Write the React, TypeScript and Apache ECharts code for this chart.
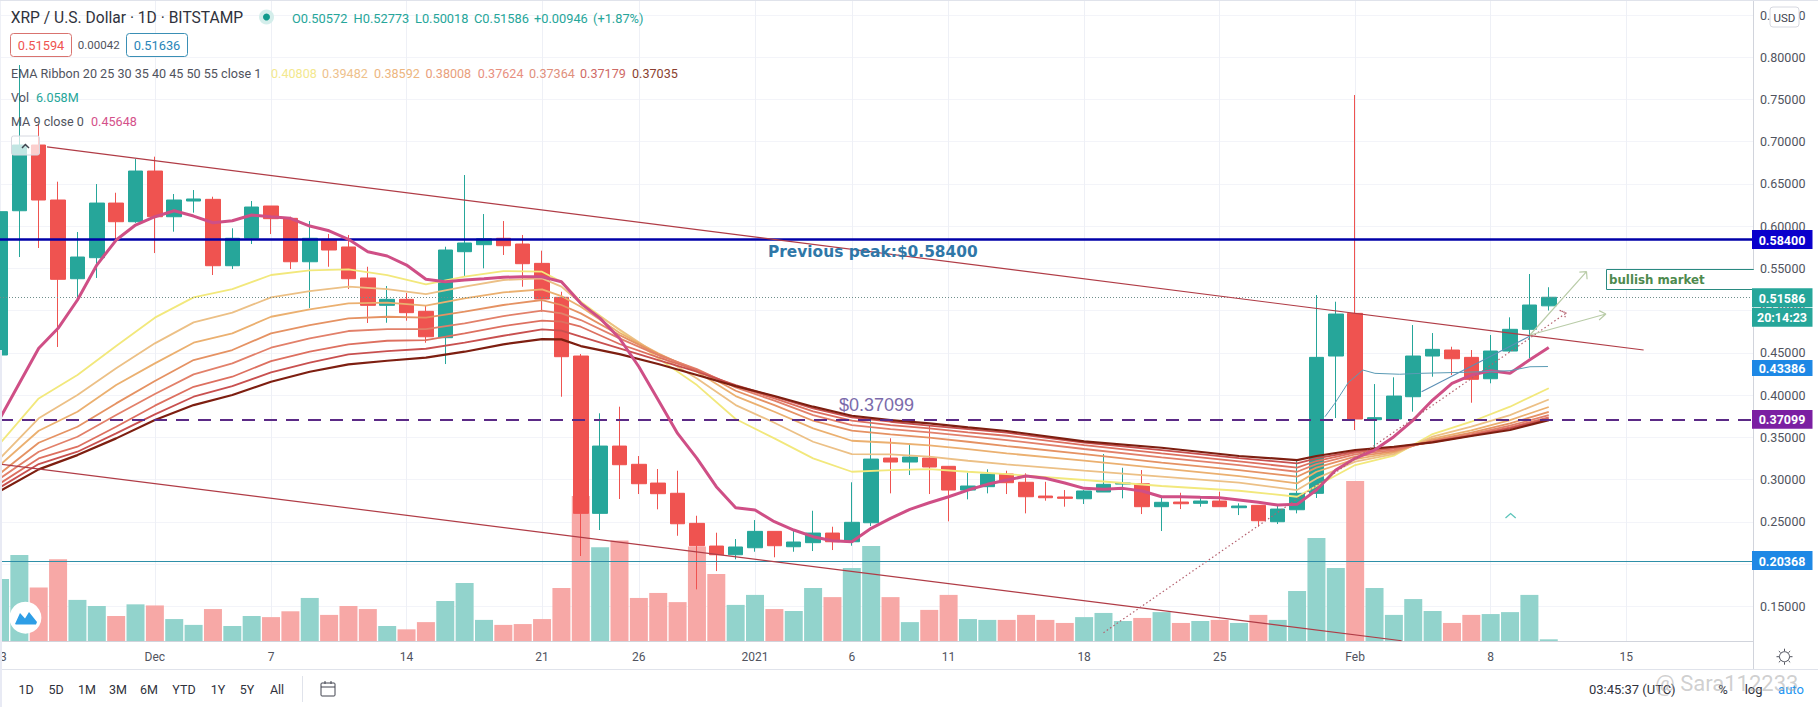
import React, { useEffect, useRef } from "react";
import * as echarts from "echarts";

// day number: 0 = 1 Dec 2020
const tickDays = [-8, 0, 6, 13, 20, 25, 31, 36, 41, 48, 55, 62, 69, 76];
const tickLabels = ["23", "Dec", "7", "14", "21", "26", "2021", "6", "11", "18", "25", "Feb", "8", "15"];
const priceTicks = [0.15, 0.2, 0.25, 0.3, 0.35, 0.4, 0.45, 0.5, 0.55, 0.6, 0.65, 0.7, 0.75, 0.8, 0.85];

// [day, open, close, low, high]
const candleRows = [
  [-8, 0.4475, 0.6172, 0.44, 0.63], [-7, 0.6183, 0.6961, 0.5635, 0.7908], [-6, 0.6961, 0.631, 0.5742, 0.721],
  [-5, 0.631, 0.5371, 0.457, 0.6527], [-4, 0.5378, 0.5635, 0.5126, 0.5931], [-3, 0.5627, 0.6274, 0.5387, 0.6499],
  [-2, 0.6274, 0.6053, 0.5836, 0.6396], [-1, 0.6053, 0.6653, 0.604, 0.6795], [0, 0.6653, 0.6112, 0.5682, 0.6823],
  [1, 0.6112, 0.631, 0.5935, 0.6381], [2, 0.6298, 0.6322, 0.616, 0.6428], [3, 0.6318, 0.5532, 0.5422, 0.6349],
  [4, 0.5532, 0.5857, 0.5493, 0.5975], [5, 0.5857, 0.6227, 0.5789, 0.6298], [6, 0.6239, 0.6089, 0.5907, 0.6239],
  [7, 0.6093, 0.5579, 0.5493, 0.6112], [8, 0.5579, 0.5857, 0.5031, 0.6061], [9, 0.5845, 0.5718, 0.552, 0.5907],
  [10, 0.5754, 0.5378, 0.5256, 0.5896], [11, 0.5387, 0.5063, 0.4854, 0.552], [12, 0.5063, 0.5134, 0.4857, 0.5292],
  [13, 0.5134, 0.4976, 0.4881, 0.5209], [14, 0.4992, 0.4691, 0.462, 0.5067], [15, 0.468, 0.5718, 0.4368, 0.5757],
  [16, 0.5698, 0.5801, 0.5402, 0.6606], [17, 0.5781, 0.5852, 0.5501, 0.6144], [18, 0.5857, 0.5769, 0.5659, 0.6061],
  [19, 0.5789, 0.5556, 0.5283, 0.5896], [20, 0.556, 0.5138, 0.4988, 0.571], [21, 0.5158, 0.4455, 0.3981, 0.5224],
  [22, 0.4463, 0.26, 0.2095, 0.4487], [23, 0.26, 0.3397, 0.2403, 0.3785], [24, 0.3397, 0.3176, 0.277, 0.3863],
  [25, 0.3181, 0.2951, 0.2829, 0.3279], [26, 0.2959, 0.2833, 0.2648, 0.3125], [27, 0.2838, 0.2477, 0.2335, 0.3105],
  [28, 0.2482, 0.2217, 0.17, 0.2572], [29, 0.2213, 0.211, 0.1917, 0.2371], [30, 0.211, 0.2202, 0.2056, 0.2296],
  [31, 0.2193, 0.2387, 0.2146, 0.2521], [32, 0.2387, 0.2217, 0.208, 0.2387], [33, 0.2205, 0.2261, 0.2146, 0.2391],
  [34, 0.2253, 0.2367, 0.2154, 0.2631], [35, 0.2367, 0.2264, 0.2166, 0.2442], [36, 0.2264, 0.2494, 0.2217, 0.2968],
  [37, 0.2489, 0.3243, 0.245, 0.3705], [38, 0.3255, 0.3208, 0.2837, 0.3489], [39, 0.3208, 0.3267, 0.3054, 0.3409],
  [40, 0.3255, 0.3149, 0.2829, 0.3646], [41, 0.3157, 0.2876, 0.2506, 0.3157], [42, 0.2876, 0.2924, 0.2766, 0.3081],
  [43, 0.2916, 0.3066, 0.2837, 0.3122], [44, 0.3066, 0.2963, 0.2829, 0.3105], [45, 0.2968, 0.2797, 0.26, 0.3074],
  [46, 0.2805, 0.2785, 0.275, 0.2974], [47, 0.2794, 0.2778, 0.2679, 0.2876], [48, 0.2773, 0.2865, 0.2711, 0.2876],
  [49, 0.2853, 0.2944, 0.2853, 0.3303], [50, 0.2947, 0.2959, 0.2778, 0.314], [51, 0.2951, 0.2679, 0.2592, 0.3113],
  [52, 0.2679, 0.2731, 0.2391, 0.279], [53, 0.2734, 0.2714, 0.2651, 0.2844], [54, 0.2719, 0.2746, 0.2679, 0.2797],
  [55, 0.2746, 0.2679, 0.2679, 0.2856], [56, 0.2667, 0.2687, 0.258, 0.2719], [57, 0.2695, 0.2513, 0.2442, 0.2695],
  [58, 0.2501, 0.2651, 0.2474, 0.2687], [59, 0.2643, 0.2837, 0.26, 0.3232], [60, 0.2837, 0.4447, 0.2782, 0.5185],
  [61, 0.4463, 0.496, 0.3729, 0.5106], [62, 0.4968, 0.3717, 0.3587, 0.7553], [63, 0.3709, 0.3733, 0.3374, 0.4131],
  [64, 0.3717, 0.3989, 0.3717, 0.4211], [65, 0.3981, 0.4463, 0.3804, 0.483], [66, 0.4463, 0.4542, 0.4218, 0.4735],
  [67, 0.4534, 0.4431, 0.4238, 0.4573], [68, 0.4447, 0.4187, 0.391, 0.4534], [69, 0.4194, 0.4522, 0.414, 0.4712],
  [70, 0.4522, 0.4779, 0.451, 0.4921], [71, 0.4779, 0.5067, 0.4439, 0.5434], [72, 0.50572, 0.51586, 0.50018, 0.52773],
];

// volume in millions, day -8 to 72
const volumes = [
  223, 310, 193, 294, 148, 126, 90, 132, 128, 79, 58, 115, 54, 90, 86, 107, 155, 94, 126, 115, 54, 42, 68, 144, 209, 76, 58,
  61, 79, 191, 522, 338, 362, 155, 173, 140, 340, 241, 130, 166, 115, 108, 191, 158, 263, 342, 158, 68, 112, 166, 79, 76, 76,
  94, 76, 65, 86, 101, 72, 83, 104, 65, 72, 76, 65, 94, 76, 180, 371, 263, 576, 191, 94, 151, 108, 65, 94, 97, 104, 166, 6.058,
];

const ribbonDays = [-8, -6, -4, -2, 0, 2, 4, 6, 8, 10, 12, 14, 16, 18, 20, 21, 22, 24, 26, 28, 30, 32, 34, 36, 38, 40, 42, 44, 48, 52, 56, 59, 60, 62, 64, 66, 68, 70, 72];
const ema20 = [0.3429, 0.3961, 0.4238, 0.4581, 0.4917, 0.5157, 0.5256, 0.5422, 0.5477, 0.5489, 0.5422, 0.5311, 0.5402, 0.5469, 0.5461, 0.5343, 0.5106, 0.4771, 0.4435, 0.4119, 0.3717, 0.3488, 0.3251, 0.3093, 0.3113, 0.3125, 0.3093, 0.3065, 0.2995, 0.2924, 0.2868, 0.2797, 0.2924, 0.3172, 0.3283, 0.3539, 0.3685, 0.3863, 0.40808];
const ema25 = [0.3251, 0.3725, 0.4001, 0.4317, 0.4613, 0.4861, 0.4976, 0.5157, 0.5232, 0.5284, 0.5256, 0.5197, 0.5284, 0.5363, 0.5382, 0.5284, 0.5086, 0.4778, 0.4474, 0.4198, 0.3882, 0.3673, 0.3448, 0.3302, 0.3298, 0.3271, 0.3223, 0.318, 0.3105, 0.3034, 0.2963, 0.2876, 0.3014, 0.3212, 0.3302, 0.3508, 0.3626, 0.3764, 0.39482];
const ema30 = [0.3172, 0.3578, 0.3803, 0.4119, 0.4376, 0.4621, 0.4731, 0.4928, 0.5015, 0.5086, 0.5094, 0.5059, 0.5145, 0.5217, 0.5252, 0.5173, 0.5047, 0.4739, 0.4494, 0.4277, 0.3989, 0.3803, 0.3606, 0.346, 0.3436, 0.3405, 0.3361, 0.331, 0.3224, 0.3133, 0.3042, 0.2955, 0.3093, 0.3243, 0.3318, 0.3484, 0.3583, 0.3705, 0.38592];
const ema35 = [0.3073, 0.3436, 0.3626, 0.3902, 0.4167, 0.4415, 0.4534, 0.4731, 0.483, 0.4909, 0.4928, 0.4917, 0.4988, 0.5067, 0.5126, 0.5067, 0.4968, 0.4711, 0.4486, 0.4297, 0.4052, 0.3882, 0.3697, 0.3579, 0.3535, 0.3496, 0.3448, 0.3397, 0.3302, 0.32, 0.3113, 0.3034, 0.3141, 0.3271, 0.3334, 0.3468, 0.3555, 0.3666, 0.38008];
const ema40 = [0.3014, 0.333, 0.3507, 0.3764, 0.4013, 0.4246, 0.4376, 0.4561, 0.4672, 0.4759, 0.4782, 0.4782, 0.4849, 0.4936, 0.5, 0.4968, 0.4889, 0.4672, 0.4474, 0.4309, 0.4092, 0.3934, 0.3764, 0.3646, 0.3598, 0.3559, 0.3515, 0.3468, 0.3362, 0.3263, 0.3172, 0.3093, 0.3184, 0.3298, 0.335, 0.3456, 0.3539, 0.3638, 0.37624];
const ema45 = [0.2955, 0.3251, 0.3389, 0.3626, 0.3875, 0.4099, 0.4218, 0.4403, 0.4514, 0.4601, 0.4644, 0.4652, 0.4731, 0.4818, 0.4881, 0.4869, 0.481, 0.4605, 0.4447, 0.4297, 0.4107, 0.3961, 0.3807, 0.3697, 0.3646, 0.3606, 0.3559, 0.3519, 0.3409, 0.331, 0.3216, 0.3141, 0.322, 0.3318, 0.3366, 0.3448, 0.3527, 0.3618, 0.37364];
const ema50 = [0.2908, 0.3184, 0.333, 0.3547, 0.3772, 0.3981, 0.4107, 0.4269, 0.4384, 0.4482, 0.4522, 0.4549, 0.4621, 0.4703, 0.4778, 0.4763, 0.4692, 0.4553, 0.4415, 0.4277, 0.4119, 0.3981, 0.3843, 0.3736, 0.3685, 0.3638, 0.3598, 0.3555, 0.3437, 0.335, 0.3255, 0.3192, 0.3251, 0.3334, 0.3381, 0.3445, 0.352, 0.3606, 0.37179];
const ema55 = [0.2864, 0.3121, 0.329, 0.3488, 0.3705, 0.3882, 0.4001, 0.4159, 0.4277, 0.4364, 0.4407, 0.4443, 0.4514, 0.4601, 0.4664, 0.466, 0.4581, 0.4486, 0.4368, 0.4238, 0.4107, 0.3989, 0.3863, 0.3756, 0.3705, 0.3665, 0.3618, 0.3575, 0.3453, 0.3377, 0.3279, 0.3231, 0.3279, 0.335, 0.3389, 0.3441, 0.3516, 0.3587, 0.37035];
const ribbonValues = [ema20, ema25, ema30, ema35, ema40, ema45, ema50, ema55];
const ribbonNames = ["EMA 20", "EMA 25", "EMA 30", "EMA 35", "EMA 40", "EMA 45", "EMA 50", "EMA 55"];
const ribbonColors = ["#f2e87c", "#ecc086", "#ebb070", "#e59263", "#e2806a", "#dd7060", "#c8504f", "#7d1e10"];
const ribbonLegend = ["0.40808", "0.39482", "0.38592", "0.38008", "0.37624", "0.37364", "0.37179", "0.37035"];
const ribbonLegendColors = ["#f3e88e", "#eec18c", "#edb680", "#e9a07c", "#e8907f", "#e0907c", "#cf6a66", "#8a3f30"];

// MA 9, day -8 to 72
const ma9 = [
  0.3725, 0.414, 0.4554, 0.4791, 0.5126, 0.554, 0.5836, 0.6014, 0.6112, 0.6183, 0.612, 0.6041, 0.6065, 0.6132, 0.6112, 0.6093,
  0.6002, 0.5946, 0.5845, 0.5698, 0.5647, 0.554, 0.5371, 0.5343, 0.5363, 0.5378, 0.5395, 0.5402, 0.5402, 0.5343, 0.5087, 0.4909,
  0.4673, 0.4336, 0.3942, 0.3547, 0.3252, 0.2916, 0.2667, 0.264, 0.2501, 0.2403, 0.2324, 0.2276, 0.2265, 0.2423, 0.2541, 0.2648,
  0.2726, 0.2797, 0.2876, 0.2944, 0.2995, 0.3042, 0.3015, 0.2959, 0.2896, 0.2885, 0.2896, 0.2865, 0.2797, 0.2797, 0.279, 0.2785,
  0.2758, 0.2731, 0.2699, 0.2707, 0.2876, 0.3113, 0.3252, 0.335, 0.3508, 0.3705, 0.3942, 0.414, 0.4238, 0.4289, 0.4258, 0.4416, 0.45648,
];

const upperTrend = [[-5.57, 0.6938], [76.9, 0.4534]];
const lowerTrend = [[-8, 0.3184], [64.4, 0.1092]];
const dottedTrend = [[49, 0.1187], [72.9, 0.4972], [72.55, 0.5005], [72.9, 0.4972], [72.8, 0.49]];
const arrowUp = [[71.03, 0.4712], [73.95, 0.5461], [73.58, 0.5457], [73.95, 0.5461], [73.98, 0.5371]];
const arrowSide = [[71.03, 0.4712], [74.95, 0.496], [74.6, 0.5], [74.95, 0.496], [74.6, 0.4889]];
const blueArrow = [[65.43, 0.404], [71.03, 0.47]];
const blueCurve = [[60.44, 0.3744], [60.95, 0.3903], [61.64, 0.4147], [62.4, 0.4297], [63.02, 0.4258], [64.3, 0.4247], [65.35, 0.4258], [67.57, 0.427], [70, 0.4289], [71.03, 0.4336], [71.96, 0.43386]];

const UP = "#26a69a";
const DOWN = "#ef5350";
const FONT = "Roboto";

function txt(text: string, x: number, y: number, size: number, fill: string, extra: any = {}) {
  return {
    type: "text",
    x,
    y,
    z: 100,
    silent: true,
    style: {
      text,
      fill,
      font: `${extra.weight || "normal"} ${size}px ${extra.family || FONT}`,
      textAlign: extra.align || "left",
      textVerticalAlign: "middle",
      opacity: extra.opacity == null ? 1 : extra.opacity,
    },
  };
}
function box(x: number, y: number, w: number, h: number, fill: string, stroke?: string, r = 0) {
  return {
    type: "rect",
    z: 99,
    silent: true,
    shape: { x, y, width: w, height: h, r },
    style: { fill, stroke: stroke || "none", lineWidth: stroke ? 1 : 0 },
  };
}
function stroke(points: number[][], color: string, lineWidth = 1) {
  return {
    type: "polyline",
    z: 100,
    silent: true,
    shape: { points },
    style: { stroke: color, lineWidth, fill: "none" },
  };
}
function tag(text: string, y0: number, y1: number, color: string) {
  return [box(1752, y0, 60.5, y1 - y0, color), txt(text, 1782, (y0 + y1) / 2 + 0.5, 12.5, "#ffffff", { align: "center", weight: "bold" })];
}

function hLine(name: string, value: number, color: string, width: number, type: any) {
  return {
    name,
    type: "line",
    data: [],
    z: 6,
    silent: true,
    markLine: {
      silent: true,
      symbol: "none",
      animation: false,
      precision: 5,
      label: { show: false },
      lineStyle: { color, width, type },
      data: [{ yAxis: value }],
    },
  };
}
function seg(name: string, data: number[][], color: string, width: number, type: any = "solid") {
  return {
    name,
    type: "line",
    data,
    z: 7,
    symbol: "none",
    silent: true,
    lineStyle: { color, width, type },
  };
}

export default function App() {
  const ref = useRef<HTMLDivElement>(null);
  useEffect(() => {
    document.body.style.margin = "0";
    const chart = echarts.init(ref.current!, undefined, { renderer: "svg" });
    const legendX = [271, 322, 374, 425.4, 477.7, 529, 580, 632];
    const toolbar: [string, number][] = [["1D", 26], ["5D", 56], ["1M", 87], ["3M", 118], ["6M", 149], ["YTD", 184], ["1Y", 218], ["5Y", 247], ["All", 277]];
    const ohlc: [string, number][] = [["O0.50572", 292], ["H0.52773", 353.6], ["L0.50018", 415], ["C0.51586", 474], ["+0.00946", 534], ["(+1.87%)", 593]];
    const gearRays: any[] = [];
    for (let a = 0; a < 8; a++) {
      const c = Math.cos((a * Math.PI) / 4);
      const s = Math.sin((a * Math.PI) / 4);
      gearRays.push(stroke([[1784.5 + 5.5 * c, 656.7 + 5.5 * s], [1784.5 + 8 * c, 656.7 + 8 * s]], "#50535e", 1));
    }
    const elements: any[] = [
      // frame
      box(0, 0, 1818, 1, "#e0e3eb"),
      box(0, 669, 1818, 1, "#e0e3eb"),
      box(1753, 641, 1, 28, "#d1d4dc"),
      box(0, 350, 2, 357, "#e8eaf4"),
      box(302, 676, 1, 26, "#e0e3eb"),
      // header
      txt("XRP / U.S. Dollar · 1D · BITSTAMP", 10.7, 17.5, 15.6, "#2f323c"),
      { type: "circle", z: 99, silent: true, shape: { cx: 266.5, cy: 17, r: 7.5 }, style: { fill: "#d4eeeb" } },
      { type: "circle", z: 100, silent: true, shape: { cx: 266.5, cy: 17, r: 3.5 }, style: { fill: "#119a8c" } },
      ...ohlc.map(([t, x]) => txt(t, x, 18, 12.8, UP)),
      box(10.5, 33.5, 61, 23, "#ffffff", "#d9736f", 3),
      txt("0.51594", 41, 45.5, 12.8, DOWN, { align: "center" }),
      txt("0.00042", 98.7, 45, 11.5, "#50535e", { align: "center" }),
      box(126.5, 33.5, 61, 23, "#ffffff", "#3a8fb5", 3),
      txt("0.51636", 157, 45.5, 12.8, "#2a85b8", { align: "center" }),
      txt("EMA Ribbon 20 25 30 35 40 45 50 55 close 1", 11, 73.5, 12.6, "#50535e"),
      ...ribbonLegend.map((t, i) => txt(t, legendX[i], 73.5, 12.6, ribbonLegendColors[i])),
      txt("Vol", 11, 97.7, 12.6, "#50535e"),
      txt("6.058M", 36, 97.7, 12.6, UP),
      txt("MA 9 close 0", 11, 121.7, 12.6, "#50535e"),
      txt("0.45648", 91, 121.7, 12.6, "#d4518a"),
      // collapse button
      box(11.5, 136, 28, 19, "rgba(255,255,255,0.72)", "#d6d8e0", 2),
      stroke([[22, 148], [25.4, 144.5], [29, 148]], "#40434e", 1.5),
      // annotations
      txt("Previous peak:$0.58400", 768, 252, 15.4, "#2f77a8", { weight: "bold", family: "DejaVu Sans" }),
      txt("$0.37099", 839, 405, 18, "#7b6bab", { family: "Liberation Sans" }),
      box(1606.5, 269.5, 147, 20, "#ffffff", "#2a8a80"),
      box(1748, 270, 6, 19, "#ffffff"),
      txt("bullish market", 1609, 279.5, 11.8, "#4e8a4e", { weight: "bold", family: "DejaVu Sans" }),
      stroke([[1505.5, 518], [1510.6, 513.5], [1515.7, 518]], "#5cc4ba", 1.3),
      // price tags
      ...tag("0.58400", 230, 249, "#0a00cc"),
      ...tag("0.51586", 288.3, 307, UP),
      ...tag("20:14:23", 307.7, 326.7, UP),
      ...tag("0.43386", 360, 376, "#1e88e5"),
      ...tag("0.37099", 410, 428.7, "#7b1fa2"),
      ...tag("0.20368", 551, 570, "#1e88e5"),
      // usd button
      box(1770, 7, 29, 20, "#ffffff", "#d6d8e0", 3),
      txt("USD", 1784.5, 17.5, 11.5, "#40434e", { align: "center" }),
      // logo
      { type: "circle", z: 99, silent: true, shape: { cx: 25.4, cy: 617.7, r: 16 }, style: { fill: "#ffffff" } },
      { type: "polygon", z: 100, silent: true, shape: { points: [[15, 624], [20, 613], [25, 618.5], [29, 612], [37, 622], [36, 624.5], [16, 624.5]] }, style: { fill: "#2e9ee6" } },
      // toolbar
      ...toolbar.map(([t, x]) => txt(t, x, 689, 12.5, "#2f323c", { align: "center" })),
      box(321, 683, 14, 13, "#ffffff", "#40434e", 1),
      stroke([[321, 687], [335, 687]], "#40434e", 1),
      stroke([[325, 681], [325, 684]], "#40434e", 1),
      stroke([[331, 681], [331, 684]], "#40434e", 1),
      txt("03:45:37 (UTC)", 1589, 689, 13, "#2f323c"),
      txt("%", 1723, 689, 13, "#2f323c", { align: "center" }),
      txt("log", 1753.6, 689, 13, "#2f323c", { align: "center" }),
      txt("auto", 1791, 689, 13, "#2196f3", { align: "center" }),
      txt("@ Sara112233", 1655, 683, 22, "#a8a8a8", { opacity: 0.55 }),
      // gear
      { type: "circle", z: 100, silent: true, shape: { cx: 1784.5, cy: 656.7, r: 5 }, style: { fill: "none", stroke: "#50535e", lineWidth: 1 } },
      ...gearRays,
    ];

    const candleByDay = candleRows.map((r) => r[2] >= r[1]);

    chart.setOption({
      animation: false,
      backgroundColor: "#ffffff",
      grid: { left: 0, top: 0, width: 1753, height: 641, containLabel: false, outerBoundsMode: "none" },
      xAxis: {
        type: "value",
        min: -8,
        max: 82.55,
        axisLine: { onZero: false, lineStyle: { color: "#d1d4dc" } },
        axisTick: { show: false, customValues: tickDays },
        splitLine: { show: true, lineStyle: { color: "#eef0f6", width: 1 } },
        axisLabel: {
          customValues: tickDays,
          margin: 10,
          color: "#50535e",
          fontFamily: FONT,
          fontSize: 12,
          formatter: (v: number) => tickLabels[tickDays.indexOf(v)] ?? "",
          hideOverlap: false,
          showMinLabel: true,
        },
      },
      yAxis: [
        {
          type: "value",
          position: "right",
          min: 0.1089,
          max: 0.8678,
          axisLine: { show: true, onZero: false, lineStyle: { color: "#d1d4dc" } },
          axisTick: { show: false, customValues: priceTicks },
          splitLine: { show: true, lineStyle: { color: "#f3f4f9", width: 1 } },
          axisLabel: {
            customValues: priceTicks,
            margin: 7,
            color: "#50535e",
            fontFamily: FONT,
            fontSize: 12.5,
            formatter: (v: number) => v.toFixed(5),
          },
        },
        { type: "value", min: 0, max: 2308, show: false, splitLine: { show: false } },
      ],
      graphic: { elements },
      series: [
        {
          name: "Vol",
          type: "bar",
          yAxisIndex: 1,
          barWidth: 18,
          z: 1,
          silent: true,
          data: volumes.map((v, i) => ({
            value: [i - 8, v],
            itemStyle: { color: candleByDay[i] ? "#92d3cc" : "#f7a8a6" },
          })),
        },
        {
          name: "XRP",
          type: "candlestick",
          barWidth: 15,
          z: 3,
          silent: true,
          encode: { x: 0, y: [1, 2, 3, 4] },
          data: candleRows,
          itemStyle: { color: UP, color0: DOWN, borderColor: UP, borderColor0: DOWN, borderWidth: 1 },
        },
        ...ribbonValues.map((vals, i) => ({
          name: ribbonNames[i],
          type: "line",
          symbol: "none",
          silent: true,
          z: 4,
          data: vals.map((v, j) => [ribbonDays[j], v]),
          lineStyle: { color: ribbonColors[i], width: i === 7 ? 2.2 : 1.8 },
        })),
        {
          name: "MA 9",
          type: "line",
          symbol: "none",
          silent: true,
          z: 5,
          data: ma9.map((v, i) => [i - 8, v]),
          lineStyle: { color: "#cf4f86", width: 3 },
        },
        hLine("Previous peak", 0.584, "#0000a8", 2.6, "solid"),
        hLine("Support", 0.37099, "#5b2a86", 2.2, [13, 9]),
        hLine("Bottom", 0.20368, "#2e8fa8", 1, "solid"),
        hLine("Last", 0.51586, "#6f8f8c", 1, [1, 2]),
        seg("Upper channel", upperTrend, "#b03c46", 1.2),
        seg("Lower channel", lowerTrend, "#b03c46", 1.2),
        seg("Projection", dottedTrend, "#b4606e", 1.2, [1.5, 2.5]),
        seg("Arrow up", arrowUp, "#b9cca8", 1.2),
        seg("Arrow side", arrowSide, "#b9cca8", 1.2),
        seg("Blue arrow", blueArrow, "#5b8fb5", 1.1),
        seg("Blue curve", blueCurve, "#5b9bb5", 1),
      ],
    });
    return () => chart.dispose();
  }, []);
  return <div ref={ref} style={{ position: "absolute", left: 0, top: 0, width: 1818, height: 707 }} />;
}
